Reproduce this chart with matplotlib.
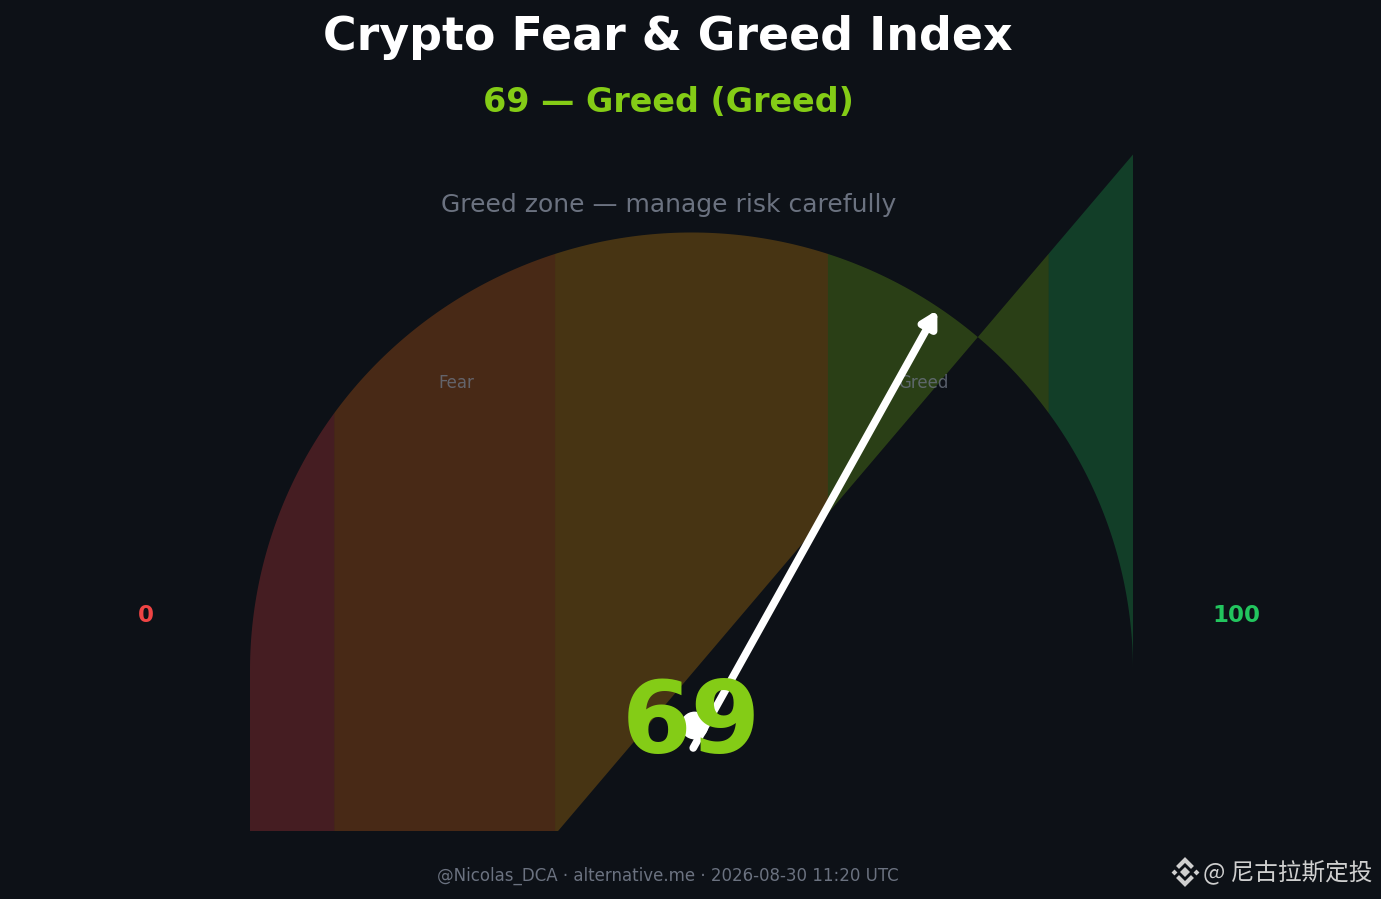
import numpy as np
import matplotlib
matplotlib.use("Agg")
import matplotlib.pyplot as plt

BG = "#0d1117"

# gauge bands, edges on the 0-100 scale
band_edges = [0, 20, 40, 60, 80, 100]
band_colors = ["#ef4444", "#f97316", "#f59e0b", "#84cc16", "#22c55e"]
band_alpha = 0.25

# straight lower edge of the fill
lower_x = [-1.0, 1.0]
lower_y = [-1.194, 1.178]

value = 69
label = "Greed"
value_color = "#84cc16"
needle_tip = (0.558, 0.822)
needle_tail = (0.005, -0.178)
hub = (0.007, -0.1256)

zone_labels = [("Fear", -0.531, 0.6553), ("Greed", 0.527, 0.6553)]

W, H = 1381, 899
fig = plt.figure(figsize=(W / 100, H / 100), dpi=100, facecolor=BG)

# px -> data: centre (691, 670), radius 441.5 px across, 438 px up
ax = fig.add_axes([0, (H - 830) / H, 1, 830 / H])
ax.set_facecolor(BG)
ax.set_xlim(-691 / 441.5, (W - 691) / 441.5)
ax.set_ylim(-160 / 438, 670 / 438)
ax.axis("off")

for i, c in enumerate(band_colors):
    t = np.linspace(band_edges[i], band_edges[i + 1], 200)
    theta = np.pi * (1 - t / 100)
    x = np.cos(theta)
    y = np.sin(theta)
    low = np.interp(x, lower_x, lower_y)
    ax.fill_between(x, low, y, color=c, alpha=band_alpha, linewidth=0)

for name, lx, ly in zone_labels:
    ax.text(lx, ly, name, color="#6b7280", fontsize=12, ha="center", va="center", alpha=0.8)

ax.annotate("", xy=needle_tip, xytext=needle_tail,
            arrowprops=dict(arrowstyle="-|>,head_length=0.5,head_width=0.28", color="white", lw=5.5,
                            capstyle="round", joinstyle="round", shrinkA=0, shrinkB=0, mutation_scale=18),
            zorder=4)
ax.scatter([hub[0]], [hub[1]], s=400, color="white", zorder=5, linewidths=0)

ax.text(0, -0.1256, str(value), color=value_color, fontsize=72, fontweight="bold",
        ha="center", va="center", zorder=6)

ax.text(-1.235, 0.1233, "0", color="#ef4444", fontsize=16.5, fontweight="bold", ha="center", va="center")
ax.text(1.235, 0.1233, "100", color="#22c55e", fontsize=16.5, fontweight="bold", ha="center", va="center")

fig.text(668 / W, 1 - 37 / H, "Crypto Fear & Greed Index", color="white", fontsize=33,
         fontweight="bold", ha="center", va="center")
fig.text(668 / W, 1 - 102 / H, f"{value} — {label} ({label})", color=value_color, fontsize=24,
         fontweight="bold", ha="center", va="center")
fig.text(669 / W, 1 - 205 / H, "Greed zone — manage risk carefully", color="#6b7280", fontsize=18,
         ha="center", va="center")
fig.text(668 / W, 1 - 876 / H, "@Nicolas_DCA · alternative.me · 2026-08-30 11:20 UTC", color="#6b7280",
         fontsize=12, ha="center", va="center")

# watermark
fig.text(1203 / W, 1 - 873 / H, "@ 尼古拉斯定投", color="#cfcfcf", fontsize=17, ha="left", va="center",
         family=["Noto Sans CJK SC", "DejaVu Sans"])

logo = fig.add_axes([0, 0, 1, 1], facecolor="none")
logo.set_xlim(0, W)
logo.set_ylim(H, 0)
logo.axis("off")
logo_c = "#cfcfcf"
logo.plot([1185], [872], marker="D", ms=5, color=logo_c, mew=0)
logo.plot([1174, 1196], [872, 872], ls="none", marker="D", ms=3, color=logo_c, mew=0)
logo.plot([1179, 1185, 1191], [866, 860, 866], color=logo_c, lw=3, solid_joinstyle="miter")
logo.plot([1179, 1185, 1191], [878, 884, 878], color=logo_c, lw=3, solid_joinstyle="miter")

fig.savefig("out.png", dpi=100, facecolor=BG)
